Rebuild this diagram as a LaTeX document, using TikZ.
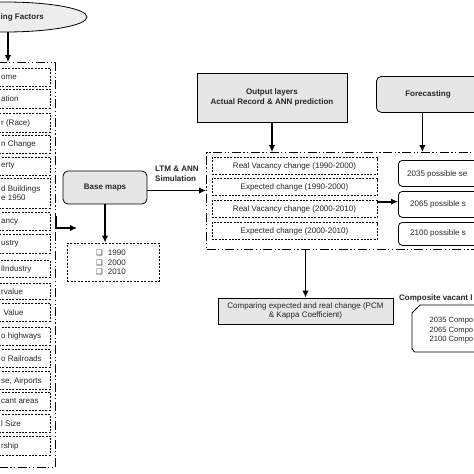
\documentclass[tikz,border=0pt]{standalone}
\usepackage{fontspec}
\setmainfont{Liberation Sans}
\newfontfamily\symfont{DejaVu Sans}
\usetikzlibrary{arrows.meta,calc,shapes.geometric}
\definecolor{boxgray}{HTML}{E6E6E6}
\begin{document}
\begin{tikzpicture}[x=1pt,y=-1pt,
  every node/.style={font=\fontsize{8}{9.5}\selectfont, inner sep=0pt, text=black!85},
  ddbox/.style={draw, line width=1.1pt, dash pattern=on 9pt off 2.5pt on 1.2pt off 2.5pt on 1.2pt off 2.5pt},
  lbox/.style={draw, line width=0.7pt, dash pattern=on 2pt off 1.3pt, minimum width=160pt, anchor=east},
  cbox/.style={draw, line width=0.7pt, dash pattern=on 2pt off 1.3pt, minimum width=165pt, minimum height=17pt},
  gbox/.style={draw, line width=0.8pt, fill=boxgray, align=center},
  sbox/.style={draw, line width=0.8pt, rounded corners=4pt, anchor=north west, minimum width=110pt},
  lbl/.style={anchor=west},
  bold/.style={font=\fontsize{8}{9.5}\selectfont\bfseries},
  cpt/.style={anchor=west, font=\fontsize{7.6}{9}\selectfont},
  arr/.style={-{Latex[length=7pt,width=6.5pt]}, line width=1.8pt}
]
\useasboundingbox (0,0) rectangle (474,474);

% ellipse
\node[draw, ellipse, fill=boxgray!70, line width=0.8pt, minimum width=164pt, minimum height=30pt] (ell) at (5,17) {};
\node[bold, anchor=west] (ellt) at (0.5,17) {ing Factors};

% left outer box
\node[ddbox, anchor=north east, minimum width=170pt, minimum height=405pt] (lo) at (56,62) {};
\draw[arr] ([xshift=3pt]ell.south) -- ([xshift=3pt]ell.south |- lo.north);

% left factor boxes
\node[lbox, minimum height=18pt] (f1) at (50.5,77) {};
\node[lbl] (t1) at (1,77) {ome};
\node[lbox, minimum height=19pt] (f2) at (50.5,98.5) {};
\node[lbl] (t2) at (1,99) {ation};
\node[lbox, minimum height=19pt] (f3) at (50.5,122.5) {};
\node[lbl] (t3) at (1,123) {r (Race)};
\node[lbox, minimum height=18pt] (f4) at (50.5,144) {};
\node[lbl] (t4) at (1,144) {n Change};
\node[lbox, minimum height=18pt] (f5) at (50.5,166) {};
\node[lbl] (t5) at (1,166) {erty};
\node[lbox, minimum height=30pt] (f6) at (50.5,193) {};
\node[lbl] (t6a) at (1,189) {d Buildings};
\node[lbl] (t6b) at (1,198) {e 1950};
\node[lbox, minimum height=18pt] (f7) at (50.5,221.5) {};
\node[lbl] (t7) at (1,222) {ancy};
\node[lbox, minimum height=19pt] (f8) at (50.5,243.5) {};
\node[lbl] (t8) at (1,244) {ustry};
\node[lbox, minimum height=17pt] (f9) at (50.5,269) {};
\node[lbl] (t9) at (1,269) {lIndustry};
\node[lbox, minimum height=16pt] (f10) at (50.5,291) {};
\node[lbl] (t10) at (1,292) {rvalue};
\node[lbox, minimum height=18pt] (f11) at (50.5,312) {};
\node[lbl] (t11) at (3.5,313) {Value};
\node[lbox, minimum height=18pt] (f12) at (50.5,336) {};
\node[lbl] (t12) at (1,336) {o highways};
\node[lbox, minimum height=18pt] (f13) at (50.5,358.5) {};
\node[lbl] (t13) at (1,359) {o Railroads};
\node[lbox, minimum height=18pt] (f14) at (50.5,380.5) {};
\node[lbl] (t14) at (1,381) {se, Airports};
\node[lbox, minimum height=18pt] (f15) at (50.5,401) {};
\node[lbl] (t15) at (1,401) {cant areas};
\node[lbox, minimum height=18pt] (f16) at (50.5,423.5) {};
\node[lbl] (t16) at (1,424) {l Size};
\node[lbox, minimum height=19pt] (f17) at (50.5,445.5) {};
\node[lbl] (t17) at (1,446) {rship};

% arrow out of left column
\coordinate (lostart) at (56,216);
\coordinate (loend) at (77,228);
\draw[arr] (lostart) |- (loend);

% base maps
\node[gbox, rounded corners=5pt, minimum width=84pt, minimum height=33pt, bold] (base) at (105,187.5) {Base maps};
\node[draw, line width=0.8pt, dash pattern=on 2pt off 1.5pt, minimum width=92pt, minimum height=38pt] (years) at (113,262) {};
\node[align=left] (ylist) at (111,262.5) {{\symfont\fontsize{7.5}{9.5}\selectfont ❑}\hspace{5pt}1990\\{\symfont\fontsize{7.5}{9.5}\selectfont ❑}\hspace{5pt}2000\\{\symfont\fontsize{7.5}{9.5}\selectfont ❑}\hspace{5pt}2010};
\draw[arr] (base.south) -- (base.south |- years.north);

% middle outer box
\node[ddbox, anchor=north west, minimum width=290pt, minimum height=97pt] (mid) at (206,152) {};
\draw[arr] ([yshift=-3pt]base.east) -- ([yshift=-3pt]base.east -| mid.west);
\node[bold, align=left, anchor=north west] (ltm) at (155,166) {LTM \& ANN\\Simulation};

% change boxes
\node[cbox] (c1) at (294.5,166) {Real Vacancy change (1990-2000)};
\node[cbox] (c2) at (294.5,187) {Expected change (1990-2000)};
\node[cbox] (c3) at (294.5,209) {Real Vacancy change (2000-2010)};
\node[cbox] (c4) at (294.5,231) {Expected change (2000-2010)};

% output layers
\node[gbox, minimum width=150pt, minimum height=49pt, font=\fontsize{8}{10}\selectfont\bfseries] (out) at (272,97.5) {Output layers\\Actual Record \& ANN prediction};
\draw[arr] (out.south) -- (out.south |- mid.north);

% forecasting
\node[gbox, rounded corners=5pt, anchor=north west, minimum width=106pt, minimum height=36pt] (fore) at (376,76) {};
\node[bold] (foret) at (428,94) {Forecasting};
\draw[arr] ([xshift=-7pt]fore.south) -- ([xshift=-7pt]fore.south |- mid.north);

% scenario boxes
\node[sbox, minimum height=26pt] (s1) at (398,160) {};
\node[anchor=west] (s1t) at (407,174) {2035 possible se};
\node[sbox, minimum height=26pt] (s2) at (398,191) {};
\node[anchor=west] (s2t) at (410,204) {2065 possible s};
\node[sbox, minimum height=23pt] (s3) at (398,222) {};
\node[anchor=west] (s3t) at (410,233) {2100 possible s};
\draw[arr] ([yshift=-1.5pt]c3.north east) -- ([yshift=-1.5pt]c3.north east -| s2.west);

% comparing
\node[gbox, minimum width=175pt, minimum height=26pt, font=\fontsize{8}{9}\selectfont] (cmp) at (305.5,311) {Comparing expected and real change (PCM\\\& Kappa Coefficient)};
\draw[arr] (cmp.north |- mid.south) -- (cmp.north);

% composite
\node[bold, anchor=west] (compl) at (399,298) {Composite vacant l};
\draw[line width=0.8pt] (412,313) -- (420,305) -- (500,305) -- (500,352) -- (415,352) to[out=180,in=90] (412,349) -- cycle;
\node[cpt] (cp1) at (429.5,321) {2035 Compo};
\node[cpt] (cp2) at (429.5,330.5) {2065 Compo};
\node[cpt] (cp3) at (429.5,340) {2100 Compo};
\end{tikzpicture}
\end{document}
